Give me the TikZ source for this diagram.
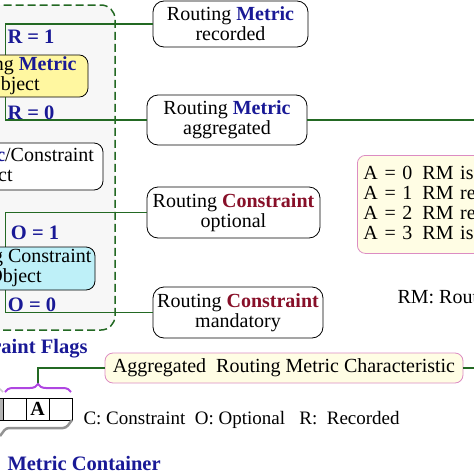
\documentclass[tikz,border=0pt]{standalone}
\usepackage{fontspec}
\setmainfont{Liberation Serif}
\usetikzlibrary{positioning,decorations.pathreplacing}
\definecolor{mblue}{RGB}{25,25,150}
\definecolor{cred}{RGB}{135,15,40}
\definecolor{lgreen}{RGB}{35,105,35}
\definecolor{pinkline}{RGB}{220,140,195}
\definecolor{cream}{RGB}{255,253,228}
\definecolor{objyellow}{RGB}{255,247,160}
\definecolor{objcyan}{RGB}{190,240,248}
\definecolor{bracepurple}{RGB}{175,70,225}
\tikzset{
  txt/.style={font=\fontsize{20}{20}\selectfont},
  rbox/.style={draw, thick, rounded corners=11pt, align=center, inner sep=2pt, txt},
  objbox/.style={rbox, rounded corners=9pt},
  infobox/.style={draw=pinkline, fill=cream, thick, rounded corners=8pt, txt},
  flag/.style={text=mblue, font=\fontsize{20.5}{20}\selectfont\bfseries},
  link/.style={lgreen, line width=1.6pt},
  cell/.style={draw, minimum width=23pt, minimum height=22pt, inner sep=0pt, outer sep=0pt, txt},
  brc/.style={decorate, decoration={brace, amplitude=8pt}},
}
\newcommand{\mtr}{\textcolor{mblue}{\textbf{Metric}}}
\newcommand{\cst}{\textcolor{cred}{\textbf{Constraint}}}

\begin{document}
\begin{tikzpicture}[x=1pt, y=-1pt]
  \useasboundingbox (0,0) rectangle (474,474);
  \clip (0,0) rectangle (474,474);

  \draw[lgreen, line width=1.5pt, dash pattern=on 8pt off 4pt, fill=gray!6, rounded corners=14pt] (-40,5) rectangle (115,330);

  \node[rbox, minimum width=155pt, minimum height=46pt] (recbox) at (230.5,24) {Routing \mtr\\recorded};
  \node[rbox, minimum width=160pt, minimum height=50pt] (aggbox) at (227,120) {Routing \mtr\\aggregated};
  \node[rbox, minimum width=173pt, minimum height=51pt] (optbox) at (233.5,212.5) {Routing \cst\\optional};
  \node[rbox, minimum width=170pt, minimum height=51pt] (mandbox) at (238,312.5) {Routing \cst\\mandatory};

  \draw[link] (recbox.west) -- ++(-147,0) |- (aggbox.west);
  \draw[link] (optbox.west) -- ++(-141,0) |- (mandbox.west);
  \draw[link] (aggbox.east) -- ++(200,0);

  \node[objbox, fill=objyellow, minimum width=150pt, minimum height=42pt] (metobj) at (13,76) {Routing \mtr\\Object};
  \node[objbox, fill=white, minimum width=234pt, minimum height=47pt] (mcobj) at (-14,166.5) {Routing \mtr/Constraint\\Object};
  \node[objbox, fill=objcyan, minimum width=160pt, minimum height=43pt] (cstobj) at (15,268.5) {Routing Constraint\\Object};

  \node[flag] (r1) at (31,37) {R = 1};
  \node[flag] (r0) at (31,113) {R = 0};
  \node[flag] (o1) at (35,233) {O = 1};
  \node[flag] (o0) at (32,305) {O = 0};
  \node[flag, anchor=east] (flagtitle) at (91,349) {Metric/Constraint Flags};

  \node[infobox, anchor=north west, text width=260pt, align=left, minimum height=98pt, inner xsep=6pt] (akey) at (357,155)
    {A = 0\enspace RM is \textcolor{mblue}{\textbf{additive}}\\
     A = 1\enspace RM reports a maximum\\
     A = 2\enspace RM reports a minimum\\
     A = 3\enspace RM is \textcolor{cred}{\textbf{multiplicative}}};
  \node[txt, anchor=base west] (rmnote) at (394,303) {RM: Routing Metric};

  \node[infobox, minimum width=358pt, minimum height=30pt, inner sep=1pt] (aggchar) at (284,368) {Aggregated\ \ Routing Metric Characteristic};
  \coordinate (atip) at (38,384);
  \draw[link] (aggchar.west) -| (atip);
  \draw[link] (aggchar.east) -- ++(20,0);

  % container fields
  \node[cell, fill=gray!60] (cell0) at (-8.5,409) {};
  \node[cell, right=0pt of cell0] (cell1) {};
  \node[cell, right=0pt of cell1] (cellA) {\textbf{A}};
  \node[cell, right=0pt of cellA] (cell3) {};

  \draw[brc, gray!40, line width=1.5pt] (-66,392) -- (3,392);
  \draw[brc, bracepurple, line width=2pt] (5,392) -- (71,392);
  \draw[gray!85, line width=2.5pt, rounded corners=3pt] (cell3.south east) -- (66,428) -- (6,428) -- (0,436);

  \node[txt, anchor=base west, font=\fontsize{19}{20}\selectfont] (legend) at (80,424) {C: Constraint\ \ O: Optional\ \ \ R:\ \ Recorded};
  \node[flag, anchor=base west] (contlabel) at (4,470) {Metric Container};
\end{tikzpicture}
\end{document}
